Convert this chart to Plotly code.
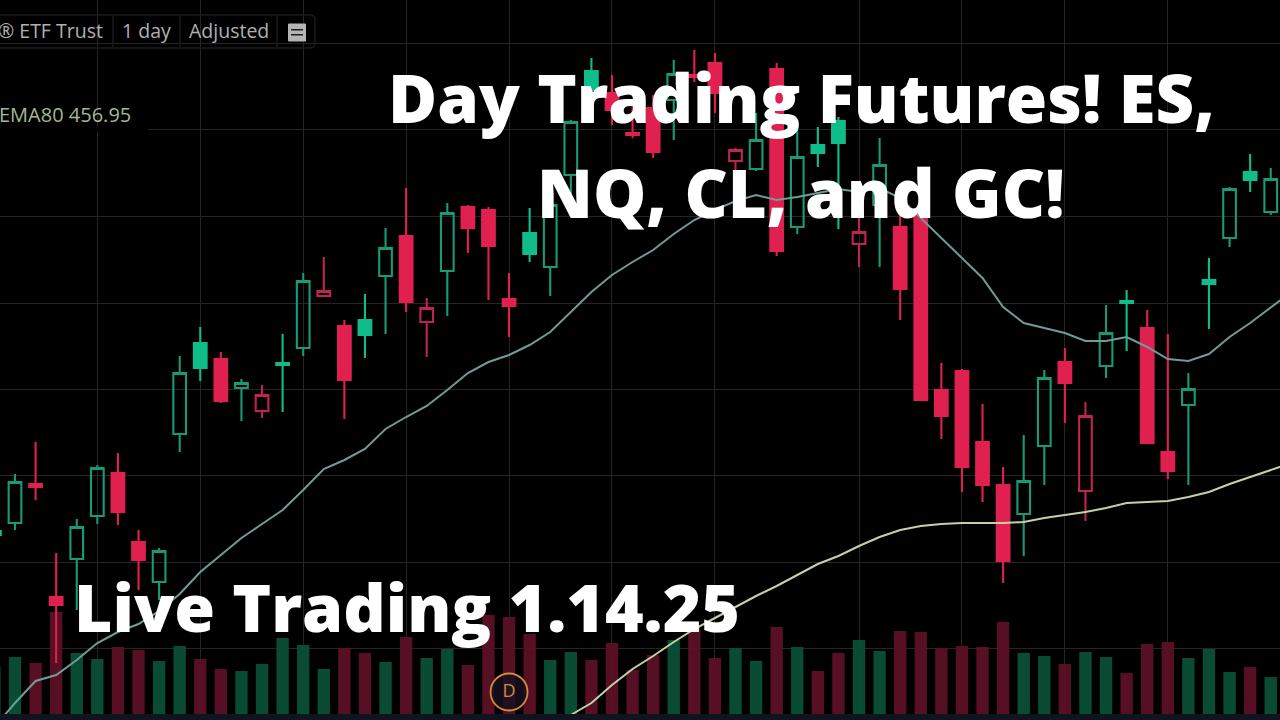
import plotly.graph_objects as go

# bar number on the x axis, -1 is the half hidden bar at the left edge
bars = list(range(-1, 62))
ema_bars = list(range(-1, 63))
ema80_bars = list(range(26, 63))

opens = [418.9, 419.7, 423.6, 412.3, 416.1, 420.4, 424.7, 417.8, 413.8, 428.6, 437.7, 436.1, 433.2, 430.9, 435.7, 437.2,
         442.4, 439.4, 440.0, 444.4, 448.4, 439.8, 444.9, 451.3, 451.0, 442.1, 448.7, 445.3, 454.5, 464.9, 462.7, 458.7,
         461.2, 462.0, 464.5, 465.7, 455.9, 455.1, 465.1, 449.3, 457.5, 459.9, 447.6, 451.5, 449.3, 450.7, 433.0, 434.9,
         427.8, 423.5, 420.6, 427.4, 435.8, 422.9, 435.4, 441.9, 439.2, 426.8, 431.5, 444.0, 448.2, 454.8, 450.8]
highs = [418.9, 424.6, 427.8, 416.7, 420.1, 425.5, 426.7, 419.0, 417.2, 436.4, 439.3, 436.8, 434.1, 433.5, 438.6, 444.7,
         446.3, 440.0, 442.6, 449.2, 453.2, 442.2, 451.7, 451.5, 451.3, 444.7, 451.2, 452.0, 460.0, 466.2, 464.5, 461.5,
         462.5, 466.0, 467.0, 466.7, 457.2, 460.7, 465.7, 459.8, 459.3, 460.3, 452.5, 458.2, 452.0, 450.7, 435.7, 435.1,
         431.6, 425.3, 428.5, 435.0, 437.2, 431.8, 441.5, 443.0, 441.0, 438.6, 434.7, 446.2, 453.3, 456.6, 455.2]
lows = [418.5, 419.0, 422.0, 405.7, 411.0, 419.6, 419.5, 413.0, 412.0, 426.8, 433.9, 431.7, 429.9, 430.2, 430.8, 436.4,
        442.3, 430.1, 436.2, 438.6, 440.8, 436.3, 440.4, 446.7, 442.0, 438.3, 445.8, 442.4, 452.5, 460.0, 459.5, 458.2,
        456.2, 458.0, 463.8, 460.7, 455.0, 454.9, 446.4, 448.6, 455.3, 449.1, 445.3, 445.3, 440.0, 432.0, 428.1, 422.8,
        421.8, 413.7, 416.4, 423.5, 429.7, 419.9, 434.2, 436.9, 427.7, 424.1, 423.5, 439.1, 447.3, 452.8, 450.5]
closes = [418.5, 423.8, 423.3, 411.5, 419.3, 425.2, 420.8, 416.0, 416.9, 434.7, 435.2, 431.9, 433.7, 432.5, 435.5, 443.9,
          442.9, 434.0, 438.5, 447.2, 441.8, 441.2, 450.7, 449.2, 447.4, 441.4, 446.6, 451.5, 459.8, 463.0, 461.0, 458.5,
          456.8, 464.6, 464.3, 462.7, 457.0, 458.0, 446.9, 456.3, 456.7, 457.7, 448.8, 455.5, 443.1, 432.0, 430.4, 425.3,
          423.5, 415.9, 423.9, 434.2, 433.7, 430.4, 438.7, 441.7, 427.7, 424.9, 433.1, 443.6, 453.1, 454.0, 454.1]
# g or r per bar, the colour does not follow open/close on this chart
candle_sides = [
    "g", "g", "r", "r", "g", "g", "r", "r", "g", "g", "g", "r", "g", "r", "g", "g",
    "r", "r", "g", "g", "r", "r", "g", "r", "r", "r", "g", "g", "g", "g", "r", "r",
    "r", "g", "r", "r", "r", "g", "r", "g", "g", "g", "r", "g", "r", "r", "r", "r",
    "r", "r", "g", "g", "r", "r", "g", "g", "r", "r", "g", "g", "g", "g", "g"]

volumes = [4.7, 5.7, 5.1, 10.2, 6.1, 5.5, 6.7, 6.4, 5.3, 6.8, 5.5, 4.5, 4.3, 5.0, 7.6, 6.9,
           4.5, 6.6, 6.1, 5.2, 7.7, 5.6, 6.5, 4.9, 9.9, 9.7, 8.0, 5.4, 6.2, 5.4, 7.1, 4.4,
           5.9, 7.4, 8.9, 5.6, 6.6, 5.3, 8.7, 6.7, 4.3, 6.1, 7.4, 6.3, 8.3, 8.2, 6.6, 6.8,
           6.7, 9.2, 6.1, 5.8, 5.0, 6.2, 5.7, 4.1, 7.0, 7.2, 5.6, 6.5, 4.2, 4.7, 3.7]
volume_sides = ["g", "g", "r", "r", "g", "g", "r", "r", "g", "g", "r", "r", "g", "g", "g", "g",
                "g", "r", "r", "g", "r", "g", "g", "r", "r", "r", "r", "g", "g", "r", "r", "r",
                "r", "g", "r", "r", "g", "g", "r", "g", "r", "r", "g", "g", "r", "r", "r", "r",
                "r", "r", "g", "g", "r", "g", "g", "r", "r", "r", "g", "g", "g", "r", "g"]

ema_fast = [399.3, 401.7, 403.9, 404.5, 406.0, 407.7, 408.8, 409.6, 410.9, 412.6, 414.8, 416.5, 418.2, 419.6, 421.0, 423.0,
            425.1, 426.0, 427.1, 429.1, 430.3, 431.4, 433.0, 434.7, 435.8, 436.5, 437.5, 438.8, 440.8, 442.8, 444.5, 445.8,
            447.0, 448.6, 450.0, 451.0, 451.9, 452.5, 452.0, 452.3, 452.7, 453.1, 452.8, 453.2, 452.2, 450.2, 448.2, 446.2,
            444.2, 441.3, 439.7, 439.2, 438.7, 437.9, 437.9, 438.3, 437.3, 436.1, 435.9, 436.6, 438.3, 439.7, 441.2, 442.8]
ema80 = [399.0, 400.5, 401.7, 403.5, 405.1, 406.4, 407.8, 409.1, 410.2, 411.3, 412.4, 413.4, 414.5, 415.6, 416.4, 417.4,
         418.3, 419.0, 419.4, 419.6, 419.7, 419.7, 419.7, 419.8, 420.2, 420.5, 420.8, 421.2, 421.7, 421.8, 421.9, 422.3,
         422.8, 423.6, 424.3, 425.0, 425.7]

grid_bars = [4, 9, 14, 19, 24, 29, 34, 41, 46, 51, 56]
grid_prices = [467.7, 459.1, 450.4, 441.7, 433.1, 424.5, 415.8, 407.2]
dividend_bar = [24]
dividend_volume = [2.2]

GREEN_HOLLOW = "#189a76"
GREEN_SOLID = "#0fbd8a"
RED_HOLLOW = "#c0244f"
RED_SOLID = "#e0204f"
FONT = "Open Sans"

fig = go.Figure()

for side, color in (("g", "#0b5138"), ("r", "#5c1026")):
    idx = [i for i, s in enumerate(volume_sides) if s == side]
    fig.add_trace(go.Bar(x=[bars[i] for i in idx], y=[volumes[i] for i in idx], width=0.6,
                         marker=dict(color=color, line_width=0, opacity=0.93), yaxis="y"))

for side, hollow, solid in (("g", GREEN_HOLLOW, GREEN_SOLID), ("r", RED_HOLLOW, RED_SOLID)):
    idx = [i for i, s in enumerate(candle_sides) if s == side]
    fig.add_trace(go.Candlestick(
        x=[bars[i] for i in idx],
        open=[opens[i] for i in idx],
        high=[highs[i] for i in idx],
        low=[lows[i] for i in idx],
        close=[closes[i] for i in idx],
        increasing=dict(line=dict(color=hollow, width=2.1), fillcolor="rgba(0,0,0,0)"),
        decreasing=dict(line=dict(color=solid, width=2.1), fillcolor=solid),
        whiskerwidth=0,
        yaxis="y2",
    ))

fig.add_trace(go.Scatter(x=ema_bars, y=ema_fast, mode="lines", line=dict(color="#6f9c98", width=2), yaxis="y2"))
fig.add_trace(go.Scatter(x=ema80_bars, y=ema80, mode="lines", line=dict(color="#c3d2a6", width=2), yaxis="y2"))
fig.add_trace(go.Scatter(x=dividend_bar, y=dividend_volume, mode="markers+text", text=["D"], yaxis="y",
                         textposition="middle center", textfont=dict(family=FONT, size=18, color="#c98a45"),
                         marker=dict(size=37, color="rgba(22,16,30,0.8)", line=dict(color="#d08b3c", width=1.8))))


def px_x(v):
    return v / 1280


def px_y(v):
    return 1 - v / 720


def label(text, x, y, size, color, weight=400, anchor="left"):
    fig.add_annotation(text=text, x=px_x(x), y=px_y(y), xref="paper", yref="paper",
                       xanchor=anchor, yanchor="middle", showarrow=False,
                       font=dict(family=FONT, size=size, color=color, weight=weight))


def box(x0, y0, x1, y1, **kw):
    fig.add_shape(type="rect", xref="paper", yref="paper", x0=px_x(x0), x1=px_x(x1), y0=px_y(y0), y1=px_y(y1),
                  layer="above", **kw)


# toolbar pill at the top left, rounded on the right side
pill_path = (f"M {px_x(-10)} {px_y(15)} L {px_x(310)} {px_y(15)} Q {px_x(315)} {px_y(15)} {px_x(315)} {px_y(20)} "
             f"L {px_x(315)} {px_y(43)} Q {px_x(315)} {px_y(48)} {px_x(310)} {px_y(48)} L {px_x(-10)} {px_y(48)} Z")
fig.add_shape(type="path", xref="paper", yref="paper", path=pill_path, line=dict(color="#1b1b1b", width=1.4), layer="above")
for sep in (113, 180, 277):
    box(sep, 15, sep, 48, line=dict(color="#1b1b1b", width=1.4))
box(288.5, 24, 305.5, 41, line=dict(color="#b4b4b4", width=1), fillcolor="#b4b4b4")
box(291, 29, 303, 30.5, line_width=0, fillcolor="#1d1d1d")
box(291, 34, 303, 35.5, line_width=0, fillcolor="#1d1d1d")
box(0, 126, 148, 132, line_width=0, fillcolor="#000000")
box(0, 714, 1280, 720, line_width=0, fillcolor="#0f1420")

label("® ETF Trust", -4, 31, 19.5, "#b0b0b0")
label("1 day", 120, 31, 19.5, "#b0b0b0")
label("Adjusted", 187, 31, 19.5, "#b0b0b0")
label("EMA80 456.95", -3, 115, 20, "#a3b892")

label("Day Trading Futures! ES,", 801, 97, 67, "#ffffff", weight=800, anchor="center")
label("NQ, CL, and GC!", 801, 192, 67, "#ffffff", weight=800, anchor="center")
label("Live Trading 1.14.25", 72, 606, 66, "#ffffff", weight=800)

fig.update_layout(
    width=1280,
    height=720,
    margin=dict(l=0, r=0, t=0, b=0),
    paper_bgcolor="#000000",
    plot_bgcolor="#000000",
    showlegend=False,
    boxgap=0.12,
    xaxis=dict(range=[-0.7285, 61.45], tickmode="array", tickvals=grid_bars, showticklabels=False, ticks="",
               showgrid=True, gridcolor="#252525", gridwidth=1, zeroline=False, rangeslider=dict(visible=False)),
    yaxis=dict(range=[-0.6, 71.4], showgrid=False, showticklabels=False, ticks="", zeroline=False),
    yaxis2=dict(range=[400, 472], overlaying="y", tickmode="array", tickvals=grid_prices, showticklabels=False,
                ticks="", showgrid=True, gridcolor="#252525", gridwidth=1, zeroline=False),
)

fig.write_html("out.html", config=dict(displayModeBar=False),
               post_script="document.body.style.margin='0';document.body.style.background='#000';")
